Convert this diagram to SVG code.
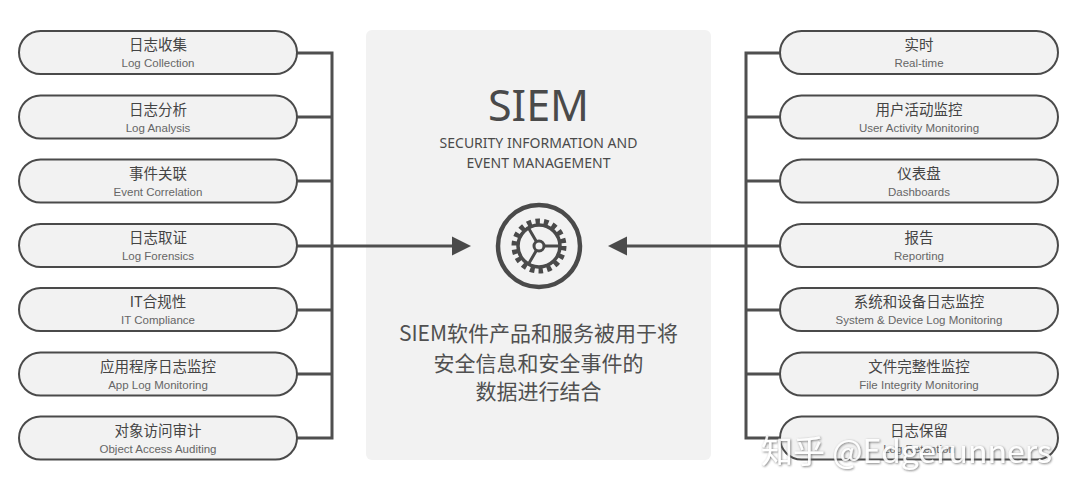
<svg xmlns="http://www.w3.org/2000/svg" width="1080" height="499" viewBox="0 0 1080 499">
<style>
text{font-family:"Noto Sans CJK SC","Noto Sans",sans-serif;text-anchor:middle;fill:#4a4a4a}
.pill{fill:#f2f2f2;stroke:#4a4a4a;stroke-width:2}
.zh{font-size:14.500px;fill:#444}
.en{font-size:11.500px;fill:#666;font-family:"Liberation Sans","Noto Sans CJK SC",sans-serif}
.line{fill:none;stroke:#4f4f4f;stroke-width:3}
.head{fill:#4a4a4a}
.sub{font-size:14px;font-family:"Noto Sans","Noto Sans CJK SC",sans-serif}
.body{font-size:21px;fill:#505050}
.mark{font-size:32px;fill:#fff;opacity:.9;text-anchor:start;filter:url(#ds)}
</style>
<defs><filter id="ds" x="-5%" y="-20%" width="110%" height="140%"><feDropShadow dx="0.8" dy="0.8" stdDeviation="0.8" flood-color="#666"/></filter></defs>
<rect width="1080" height="499" fill="#fff"/>
<rect id="panel" x="366" y="30" width="345" height="430" rx="6" fill="#f2f2f2"/>
<g id="connectors">
<path class="line" d="M297 53H332V438H297M297 117H332M297 181H332M297 310H332M297 374H332M297 246H455"/>
<path class="line" d="M780 53H746V438H780M780 117H746M780 181H746M780 310H746M780 374H746M780 246H624"/>
<path class="head" d="M452 236.500L471 246L452 255.500Z"/>
<path class="head" d="M627 236.500L608 246L627 255.500Z"/>
</g>
<g id="left-1"><rect class="pill" x="19" y="31" width="278" height="43" rx="21.500"/><text class="zh" x="158" y="50">日志收集</text><text class="en" x="158" y="67">Log Collection</text></g>
<g id="left-2"><rect class="pill" x="19" y="95.500" width="278" height="43" rx="21.500"/><text class="zh" x="158" y="114.500">日志分析</text><text class="en" x="158" y="131.500">Log Analysis</text></g>
<g id="left-3"><rect class="pill" x="19" y="159.500" width="278" height="43" rx="21.500"/><text class="zh" x="158" y="178.500">事件关联</text><text class="en" x="158" y="195.500">Event Correlation</text></g>
<g id="left-4"><rect class="pill" x="19" y="224" width="278" height="43" rx="21.500"/><text class="zh" x="158" y="243">日志取证</text><text class="en" x="158" y="260">Log Forensics</text></g>
<g id="left-5"><rect class="pill" x="19" y="288" width="278" height="43" rx="21.500"/><text class="zh" x="158" y="307">IT合规性</text><text class="en" x="158" y="324">IT Compliance</text></g>
<g id="left-6"><rect class="pill" x="19" y="352.500" width="278" height="43" rx="21.500"/><text class="zh" x="158" y="371.500">应用程序日志监控</text><text class="en" x="158" y="388.500">App Log Monitoring</text></g>
<g id="left-7"><rect class="pill" x="19" y="416.500" width="278" height="43" rx="21.500"/><text class="zh" x="158" y="435.500">对象访问审计</text><text class="en" x="158" y="452.500">Object Access Auditing</text></g>
<g id="right-1"><rect class="pill" x="780" y="31" width="278" height="43" rx="21.500"/><text class="zh" x="919" y="50">实时</text><text class="en" x="919" y="67">Real-time</text></g>
<g id="right-2"><rect class="pill" x="780" y="95.500" width="278" height="43" rx="21.500"/><text class="zh" x="919" y="114.500">用户活动监控</text><text class="en" x="919" y="131.500">User Activity Monitoring</text></g>
<g id="right-3"><rect class="pill" x="780" y="159.500" width="278" height="43" rx="21.500"/><text class="zh" x="919" y="178.500">仪表盘</text><text class="en" x="919" y="195.500">Dashboards</text></g>
<g id="right-4"><rect class="pill" x="780" y="224" width="278" height="43" rx="21.500"/><text class="zh" x="919" y="243">报告</text><text class="en" x="919" y="260">Reporting</text></g>
<g id="right-5"><rect class="pill" x="780" y="288" width="278" height="43" rx="21.500"/><text class="zh" x="919" y="307">系统和设备日志监控</text><text class="en" x="919" y="324">System &amp; Device Log Monitoring</text></g>
<g id="right-6"><rect class="pill" x="780" y="352.500" width="278" height="43" rx="21.500"/><text class="zh" x="919" y="371.500">文件完整性监控</text><text class="en" x="919" y="388.500">File Integrity Monitoring</text></g>
<g id="right-7"><rect class="pill" x="780" y="416.500" width="278" height="43" rx="21.500"/><text class="zh" x="919" y="435.500">日志保留</text><text class="en" x="919" y="452.500">Log Retention</text></g>
<g id="siem">
<text x="538.500" y="121" font-size="43" style="font-family:'Noto Sans',sans-serif">SIEM</text>
<text class="sub" x="538.500" y="148">SECURITY INFORMATION AND</text>
<text class="sub" x="538.500" y="168">EVENT MANAGEMENT</text>
<g id="gear" fill="none" stroke="#4a4a4a">
<circle cx="539" cy="246" r="41" stroke-width="4.500"/>
<circle cx="539" cy="246" r="24.500" stroke-width="6" stroke-dasharray="4.500 4.050"/>
<circle cx="539" cy="246" r="21" stroke-width="3.500"/>
<circle cx="539" cy="246" r="5" stroke-width="3"/>
<path stroke-width="3" d="M544 246H560M536.500 241.700L528.500 228M536.500 250.300L528.500 264"/>
</g>
<text class="body" x="538.500" y="341">SIEM软件产品和服务被用于将</text>
<text class="body" x="538.500" y="371">安全信息和安全事件的</text>
<text class="body" x="538.500" y="399">数据进行结合</text>
</g>
<text class="mark" x="761" y="463">知乎 @Edgerunners</text>
</svg>
